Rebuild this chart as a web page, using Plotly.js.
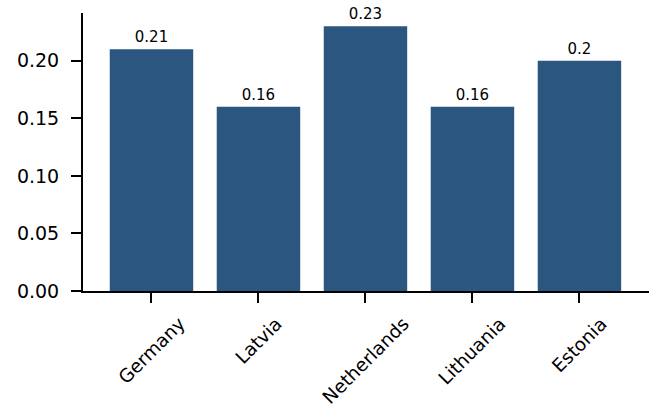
<!DOCTYPE html>
<html><head><meta charset="utf-8">
<script src="https://cdn.plot.ly/plotly-3.0.1.min.js"></script>
<style>body{margin:0;background:#fff}#c{width:655px;height:405px}</style>
</head><body><div id="c"></div>
<script>
const countries = ["Germany", "Latvia", "Netherlands", "Lithuania", "Estonia"];
const values = [0.21, 0.16, 0.23, 0.16, 0.2];
const labels = ["0.21", "0.16", "0.23", "0.16", "0.2"];
const yTicks = [0, 0.05, 0.10, 0.15, 0.20];
const yTickText = ["0.00", "0.05", "0.10", "0.15", "0.20"];

const FONT = "DejaVu Sans";
const catLabels = countries.map(c => ({
  x: c, xref: "x", y: 0, yref: "paper", yshift: -19,
  text: c, showarrow: false, textangle: -45,
  xanchor: "center", yanchor: "top",
  font: {family: FONT, size: 18.5, color: "#000"}
}));

Plotly.newPlot("c", [{
  type: "bar", x: countries, y: values, text: labels,
  textposition: "outside", cliponaxis: false,
  textfont: {family: FONT, size: 15, color: "#000"},
  marker: {color: "#2b5680", line: {width: 0}},
  width: 0.78, hoverinfo: "none"
}], {
  width: 655, height: 405,
  margin: {l: 83, r: 6, t: 13, b: 114},
  paper_bgcolor: "#fff", plot_bgcolor: "#fff",
  font: {family: FONT, size: 18, color: "#000"},
  showlegend: false,
  annotations: catLabels,
  xaxis: {range: [-0.64, 4.65], showline: true, linewidth: 2, linecolor: "#000",
    ticks: "outside", ticklen: 10, tickwidth: 2, tickcolor: "#000",
    showticklabels: false, showgrid: false, zeroline: false},
  yaxis: {range: [0, 0.2415], showline: true, linewidth: 2, linecolor: "#000",
    ticks: "outside", ticklen: 10, tickwidth: 2, tickcolor: "#000",
    tickvals: yTicks, ticktext: yTickText, showgrid: false, zeroline: false,
    ticklabelstandoff: 8, tickfont: {size: 19}}
}, {staticPlot: true});
</script></body></html>
